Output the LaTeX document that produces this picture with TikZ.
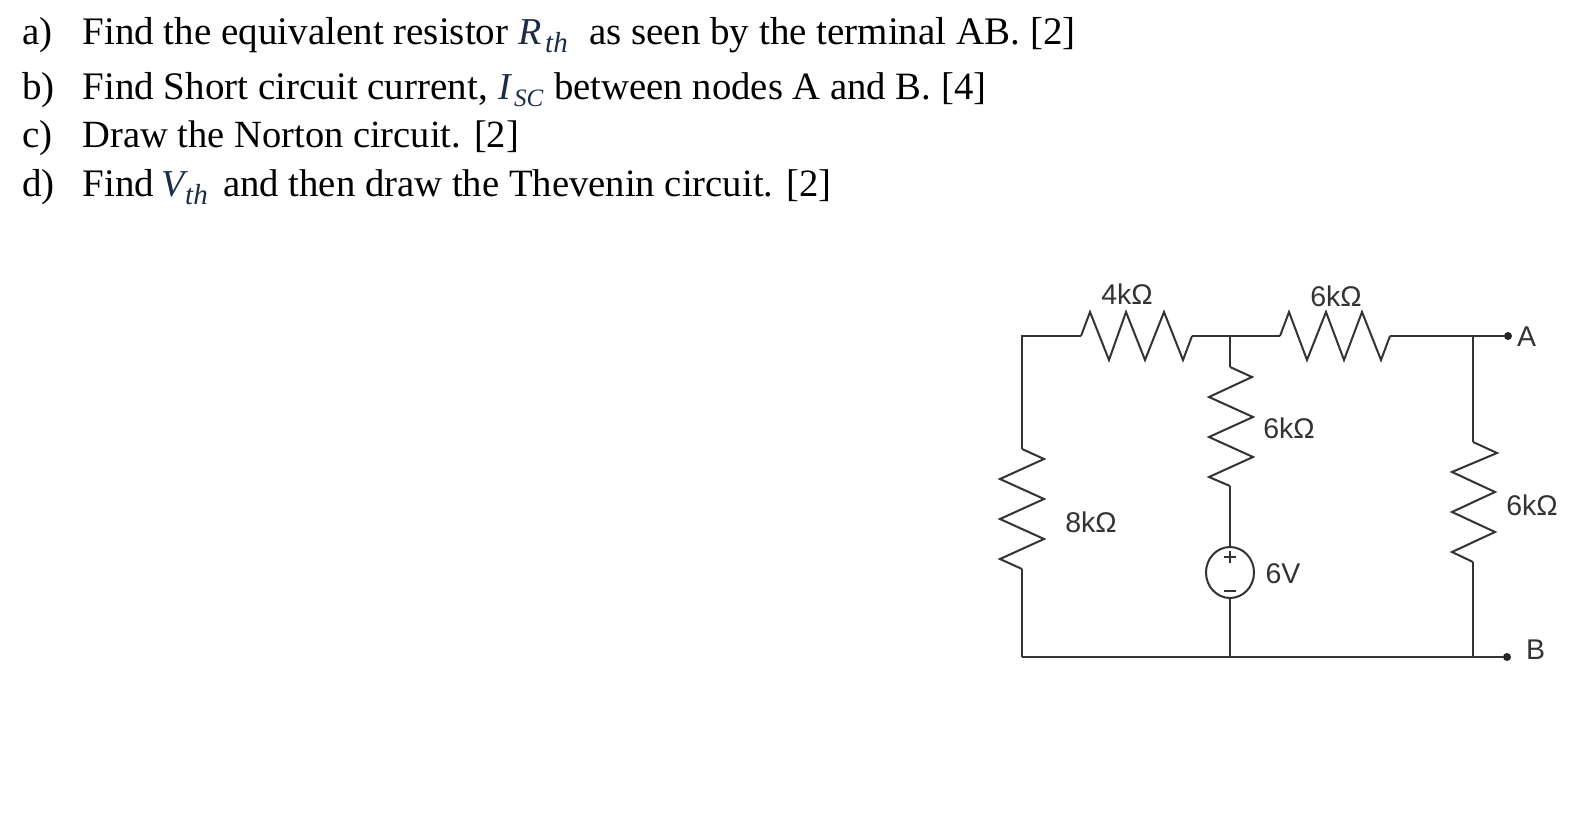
\documentclass[tikz,border=0pt]{standalone}
\usepackage{fontspec}
\usetikzlibrary{shapes.geometric}
\setmainfont{Liberation Serif}
\newfontfamily\labelfont{Liberation Sans}
\definecolor{wirecol}{HTML}{333333}
\definecolor{mathcol}{HTML}{1C2C48}
\tikzset{
  wire/.style={draw=wirecol,line width=2pt,line join=miter},
  busbar/.style={draw=wirecol,line width=2.4pt},
  qtext/.style={anchor=base west,inner sep=0pt,font=\fontsize{39}{39}\selectfont,text=black},
  qtextb/.style={qtext,font=\fontsize{38.7}{39}\selectfont},
  mathtext/.style={anchor=base west,inner sep=0pt,font=\fontsize{38}{38}\selectfont\itshape,text=mathcol},
  subtext/.style={anchor=base west,inner sep=0pt,font=\fontsize{29}{29}\selectfont\itshape,text=mathcol},
  capsub/.style={anchor=base west,inner sep=0pt,font=\fontsize{25}{25}\selectfont\itshape,text=mathcol},
  clabel/.style={anchor=base,inner sep=0pt,font=\labelfont\fontsize{28.5}{28.5}\selectfont,text=wirecol},
  terminal/.style={circle,fill=black!85,inner sep=0pt,minimum size=8pt}
}
\begin{document}
\begin{tikzpicture}[x=1pt,y=-1pt]
\useasboundingbox[fill=white] (0,0) rectangle (1582,818);
% question text
\node[qtext] (la) at (22,45) {a)};
\node[qtext] (ta) at (82.5,45) {Find the equivalent resistor};
\node[mathtext] (ra) at (518,45) {R};
\node[subtext] (rb) at (545,53) {th};
\node[qtext] (tb) at (589,45) {as seen by the terminal AB. [2]};
\node[qtext] (lb) at (22,100) {b)};
\node[qtext] (tc) at (82.5,100) {Find Short circuit current,};
\node[mathtext] (ia) at (498,100) {I};
\node[capsub] (ib) at (514,107) {SC};
\node[qtextb] (td) at (554,100) {between nodes A and B. [4]};
\node[qtext] (lc) at (22,148) {c)};
\node[qtext,font=\fontsize{38.5}{39}\selectfont] (te) at (82.5,148) {Draw the Norton circuit. [2]};
\node[qtext] (ld) at (22,197) {d)};
\node[qtext] (tf) at (82.5,197) {Find};
\node[mathtext] (va) at (161,197) {V};
\node[subtext] (vb) at (185,205) {th};
\node[qtextb] (tg) at (223,197) {and then draw the Thevenin circuit. [2]};
% junctions
\coordinate (tl) at (1022,336);
\coordinate (tm) at (1230,336);
\coordinate (tr) at (1473,336);
\coordinate (bl) at (1022,657);
\coordinate (bm) at (1230,657);
\coordinate (br) at (1473,657);
\coordinate (r1a) at (1081,336);
\coordinate (r1b) at (1192,336);
\coordinate (r2a) at (1280,336);
\coordinate (r2b) at (1390,336);
\coordinate (r3a) at (1022,449);
\coordinate (r3b) at (1022,569);
\coordinate (r4a) at (1230,367);
\coordinate (r4b) at (1230,486);
\coordinate (r5a) at (1473,442);
\coordinate (r5b) at (1473,562);
% source and terminals
\node[draw=wirecol,line width=2pt,ellipse,minimum width=48pt,minimum height=51pt,inner sep=0pt] (vs) at (1230,572.5) {};
\node[terminal] (A) at (1508,336) {};
\node[terminal] (B) at (1507,657) {};
% wires
\draw[wire] (r1b) -- (r2a);
\draw[wire] (r2b) -- (A);
\draw[wire] (r1a) -- (tl) -- (r3a);
\draw[wire] (r3b) -- (bl);
\draw[wire] (tm) -- (r4a);
\draw[wire] (r4b) -- (vs.north);
\draw[wire] (vs.south) -- (bm);
\draw[wire] (tr) -- (r5a);
\draw[wire] (r5b) -- (br);
\draw[busbar] (bl) -- (B);
% resistors
\draw[wire] (r1a) -- (1090,312) -- (1109,360) -- (1126,312) -- (1145,360) -- (1164,312) -- (1183,360) -- (r1b);
\draw[wire] (r2a) -- (1289,312) -- (1307,360) -- (1326,312) -- (1344,360) -- (1362,312) -- (1381,360) -- (r2b);
\draw[wire] (r3a) -- (1044,459) -- (1000,479) -- (1044,499) -- (1000,519) -- (1044,539) -- (1000,559) -- (r3b);
\draw[wire] (r4a) -- (1252,377) -- (1209,397) -- (1253,417) -- (1209,437) -- (1253,457) -- (1209,477) -- (r4b);
\draw[wire] (r5a) -- (1497,453) -- (1452,472) -- (1495,492) -- (1452,512) -- (1495,532) -- (1452,552) -- (r5b);
% source polarity
\draw[wirecol,line width=1.2pt] (1224,557) -- (1236,557) (1230,551) -- (1230,563);
\draw[wirecol,line width=1.2pt] (1224,591) -- (1236,591);
% labels
\node[clabel] (l1) at (1127,305) {4kΩ};
\node[clabel] (l2) at (1336,307) {6kΩ};
\node[clabel] (l3) at (1289,438) {6kΩ};
\node[clabel] (l4) at (1091,532) {8kΩ};
\node[clabel] (l5) at (1532,515) {6kΩ};
\node[clabel] (l6) at (1283,583) {6V};
\node[clabel,anchor=base west] (lA) at (1517,346) {A};
\node[clabel,anchor=base west] (lB) at (1526,659) {B};
\end{tikzpicture}
\end{document}
